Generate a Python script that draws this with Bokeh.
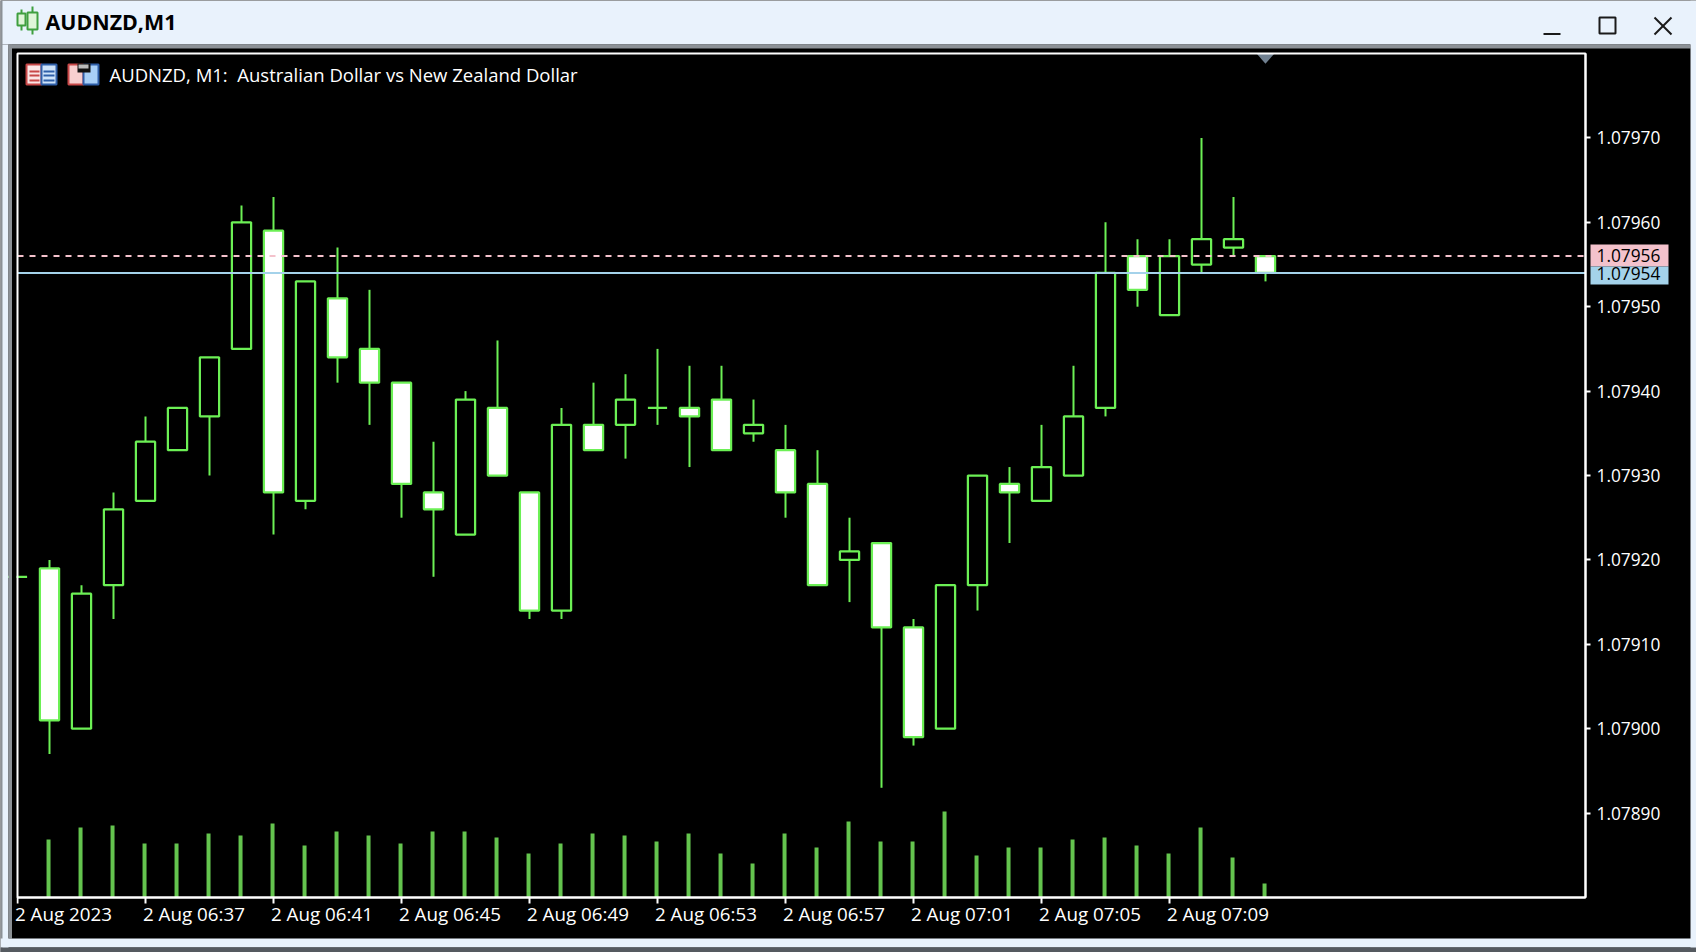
from bokeh.plotting import figure
from bokeh.embed import file_html
from bokeh.resources import INLINE
from bokeh.models import (Range1d, FixedTicker, PrintfTickFormatter, Label, BoxAnnotation,
                          PolyAnnotation, ColumnDataSource)

# ---- data -------------------------------------------------------------
BASE = 1.07890
STEP = 0.00001
index = list(range(40))
opens  = [28,29,10,27,37,43,47,55,69,37,61,55,51,38,33,48,38,24,46,46,48,48,49,45,43,39,30,32,22,10,27,39,37,40,48,66,59,65,67,66]
closes = [28,11,26,36,44,48,54,70,38,63,54,51,39,36,49,40,24,46,43,49,48,47,43,46,38,27,31,22, 9,27,40,38,41,47,64,62,66,68,68,64]
highs  = [28,30,27,38,47,48,54,72,73,63,67,62,51,44,50,56,38,48,51,52,55,53,53,49,46,43,35,32,23,27,40,41,46,53,70,68,68,80,73,66]
lows   = [28, 7,10,23,37,43,40,55,33,36,51,46,35,28,33,40,23,23,43,42,46,41,43,44,35,27,25, 3, 8,10,24,32,37,40,47,60,59,64,66,63]
volumes = [0,29,35,36,27,27,32,31,37,26,33,31,27,33,33,30,22,27,32,31,28,32,22,17,32,25,38,28,28,43,21,25,25,29,30,26,22,35,20,7]
y_tick_values = [1.07890,1.07900,1.07910,1.07920,1.07930,1.07940,1.07950,1.07960,1.07970]
x_tick_values = [0,4,8,12,16,20,24,28,32,36]
x_tick_labels = ["2 Aug 2023","2 Aug 06:37","2 Aug 06:41","2 Aug 06:45","2 Aug 06:49",
                 "2 Aug 06:53","2 Aug 06:57","2 Aug 07:01","2 Aug 07:05","2 Aug 07:09"]
ask_price = 1.07956
bid_price = 1.07954
window_title = "AUDNZD,M1"
chart_title = "AUDNZD, M1:\u00a0 Australian Dollar vs New Zealand Dollar"

# ---- colours ----------------------------------------------------------
GREEN = "#6cf055"
VOLGREEN = "#64c44e"
CHROME = "#e9f2fc"
PINK = "#f4c2cc"
BLUE = "#a4d2ea"
FONT = "Open Sans"

price = lambda pts: [BASE + v * STEP for v in pts]

# The frame fills the page: annotations are clipped to it, and the window
# furniture around the chart has to be drawn too.
W, H = 1696, 952
X0_PX, BAR_PX = 17, 32          # pixel of bar 0, pixels per bar
Y_TOP, Y_BOT = 1.07980, 1.07880  # prices at the inner chart's edges
TOP_PX, BOT_PX = 53, 897
X_END = 49
PX_PRICE = (Y_TOP - Y_BOT) / (BOT_PX - TOP_PX)

p = figure(width=W, height=H, output_backend="svg", toolbar_location=None,
           x_range=Range1d(-X0_PX / BAR_PX, (W - X0_PX) / BAR_PX),
           y_range=Range1d(Y_TOP - (H - TOP_PX) * PX_PRICE, Y_TOP + TOP_PX * PX_PRICE),
           y_axis_location="right",
           min_border_left=0, min_border_right=0, min_border_top=0, min_border_bottom=0,
           background_fill_color="black", border_fill_color="black", outline_line_color=None)
p.grid.visible = False
p.extra_y_ranges = {"vol": Range1d((BOT_PX - H) / 2, BOT_PX / 2)}


def box(l, t, r, b, fill, line=None, width=1):
    """Window furniture in page pixels."""
    p.add_layout(BoxAnnotation(left=l, right=r, top=t, bottom=b,
                               left_units="canvas", right_units="canvas", top_units="canvas", bottom_units="canvas",
                               fill_color=fill, fill_alpha=1 if fill else 0, line_color=line, line_alpha=1 if line else 0,
                               line_width=width, level="annotation", editable=False))


def stroke(xs, ys, color="#1a1a1a", width=2):
    p.add_layout(PolyAnnotation(xs=xs, ys=ys, xs_units="canvas", ys_units="canvas", fill_alpha=0,
                                line_color=color, line_alpha=1, line_width=width, level="annotation"))


def label(text, x, y, color="white", size="17.3px", bold=False, font=FONT):
    p.add_layout(Label(x=x, y=y, x_units="canvas", y_units="canvas", text=text,
                       text_color=color, text_font=font, text_font_size=size,
                       text_font_style="bold" if bold else "normal",
                       text_align="left", text_baseline="middle", level="annotation"))


# candles
src = ColumnDataSource(dict(x=index, o=price(opens), c=price(closes), h=price(highs), l=price(lows),
                            top=price([max(a, b) for a, b in zip(opens, closes)]),
                            bot=price([min(a, b) for a, b in zip(opens, closes)]),
                            fill=["white" if c < o else "black" for o, c in zip(opens, closes)],
                            vx=[i - 0.03 for i in index], v=volumes))
p.segment("x", "h", "x", "l", source=src, line_color=GREEN, line_width=2)
p.vbar("x", 0.6, "bot", "top", source=src, fill_color="fill", line_color=GREEN, line_width=2.25)
p.vbar("vx", 0.125, 0, "v", source=src, y_range_name="vol", fill_color=VOLGREEN, line_color=None)
last = index[-1]
p.patch([last - 0.28, last + 0.28, last], [Y_TOP, Y_TOP, Y_TOP - 0.000012], fill_color="#708090", line_color=None)

# price lines
p.segment([0], [ask_price], [X_END], [ask_price], line_color=PINK, line_width=2, line_dash="6 6")
p.segment([0], [bid_price], [X_END], [bid_price], line_color=BLUE, line_width=2)

# axes, fixed to the edges of the inner chart
xa = p.xaxis[0]
xa.ticker = FixedTicker(ticks=x_tick_values)
xa.fixed_location = Y_BOT
xa.bounds = (0, X_END)
xa.major_label_text_color = None
ya = p.yaxis[0]
ya.ticker = FixedTicker(ticks=y_tick_values)
ya.formatter = PrintfTickFormatter(format="%.5f")
ya.fixed_location = X_END
ya.bounds = (Y_BOT, Y_TOP)
ya.major_label_text_color = "white"
ya.major_label_text_font = FONT
ya.major_label_text_font_size = "17.3px"
for ax, out, stand in ((xa, 6, 3), (ya, 5, 6)):
    ax.axis_line_color = "white"
    ax.axis_line_width = 2
    ax.major_tick_line_color = "white"
    ax.major_tick_line_width = 2
    ax.major_tick_in = 0
    ax.major_tick_out = out
    ax.minor_tick_line_color = None
    ax.major_label_standoff = stand

# window frame
box(11.5, 48, 16, 938, "black")
box(17, TOP_PX, 1585, BOT_PX, None, "white", width=2)
box(0, 0, W, 44, CHROME)
box(0, 44, 8, H, CHROME)
box(0, 0, 2, H, "#8c9196")
box(8, 44, 1690, 48, "#8c9196")
box(8, 44, 11.5, 938, "#8c9196")
box(1690, 0, W, H, CHROME)
box(0, 938, W, 947, CHROME)
box(0, 947, W, H, "#555a60")

# date labels start at their tick
for t, s in zip(x_tick_values, x_tick_labels):
    p.add_layout(Label(x=t, y=913.5, x_units="data", y_units="canvas", x_offset=-2.5, text=s, text_color="white",
                       text_font=FONT, text_font_size="18.8px", text_align="left", text_baseline="middle",
                       level="annotation"))

# price tags
box(1590, 244, 1668, 266, PINK)
box(1590, 266, 1668, 284, BLUE)
label("1.07956", 1596, 255, color="black")
label("1.07954", 1596, 273, color="black")

# texts
label(window_title, 45, 21, color="black", size="21.4px", bold=True)
label(chart_title, 109, 74, size="18.5px")

# window icon
for l, r, cx, t, b, wt, wb in ((17, 25, 21, 13, 25, 9, 30), (27, 37, 32, 12, 29, 6, 34)):
    stroke([cx, cx], [wt, wb], color="#3f9f3f", width=2)
    box(l, t, r, b, "#dff5d8", "#3f9f3f", width=2)

# chart icons
box(26, 64, 41, 84, "#fbe6e6", "#c84848", width=2)
box(41, 64, 56, 84, "#cfe4fa", "#2f5fa8", width=2)
for y in (70, 74, 79):
    box(29, y, 39, y + 2, "#c84848")
    box(43, y, 54, y + 2, "#2f5fa8")
box(68, 64, 83, 84, "#f8cfcf", "#c84848", width=2)
box(83, 64, 98, 84, "#a8d0f8", "#2f5fa8", width=2)
box(77, 63, 90, 72, "#111111")
box(78, 64, 88, 68, "#bbbbbb")

# window buttons
stroke([1543, 1560], [33.5, 33.5], width=2)
box(1599, 17, 1615, 33, None, "#1a1a1a", width=2)
stroke([1654, 1671], [17, 34], width=2)
stroke([1671, 1654], [17, 34], width=2)

open("out.html", "w").write(file_html(p, INLINE))
